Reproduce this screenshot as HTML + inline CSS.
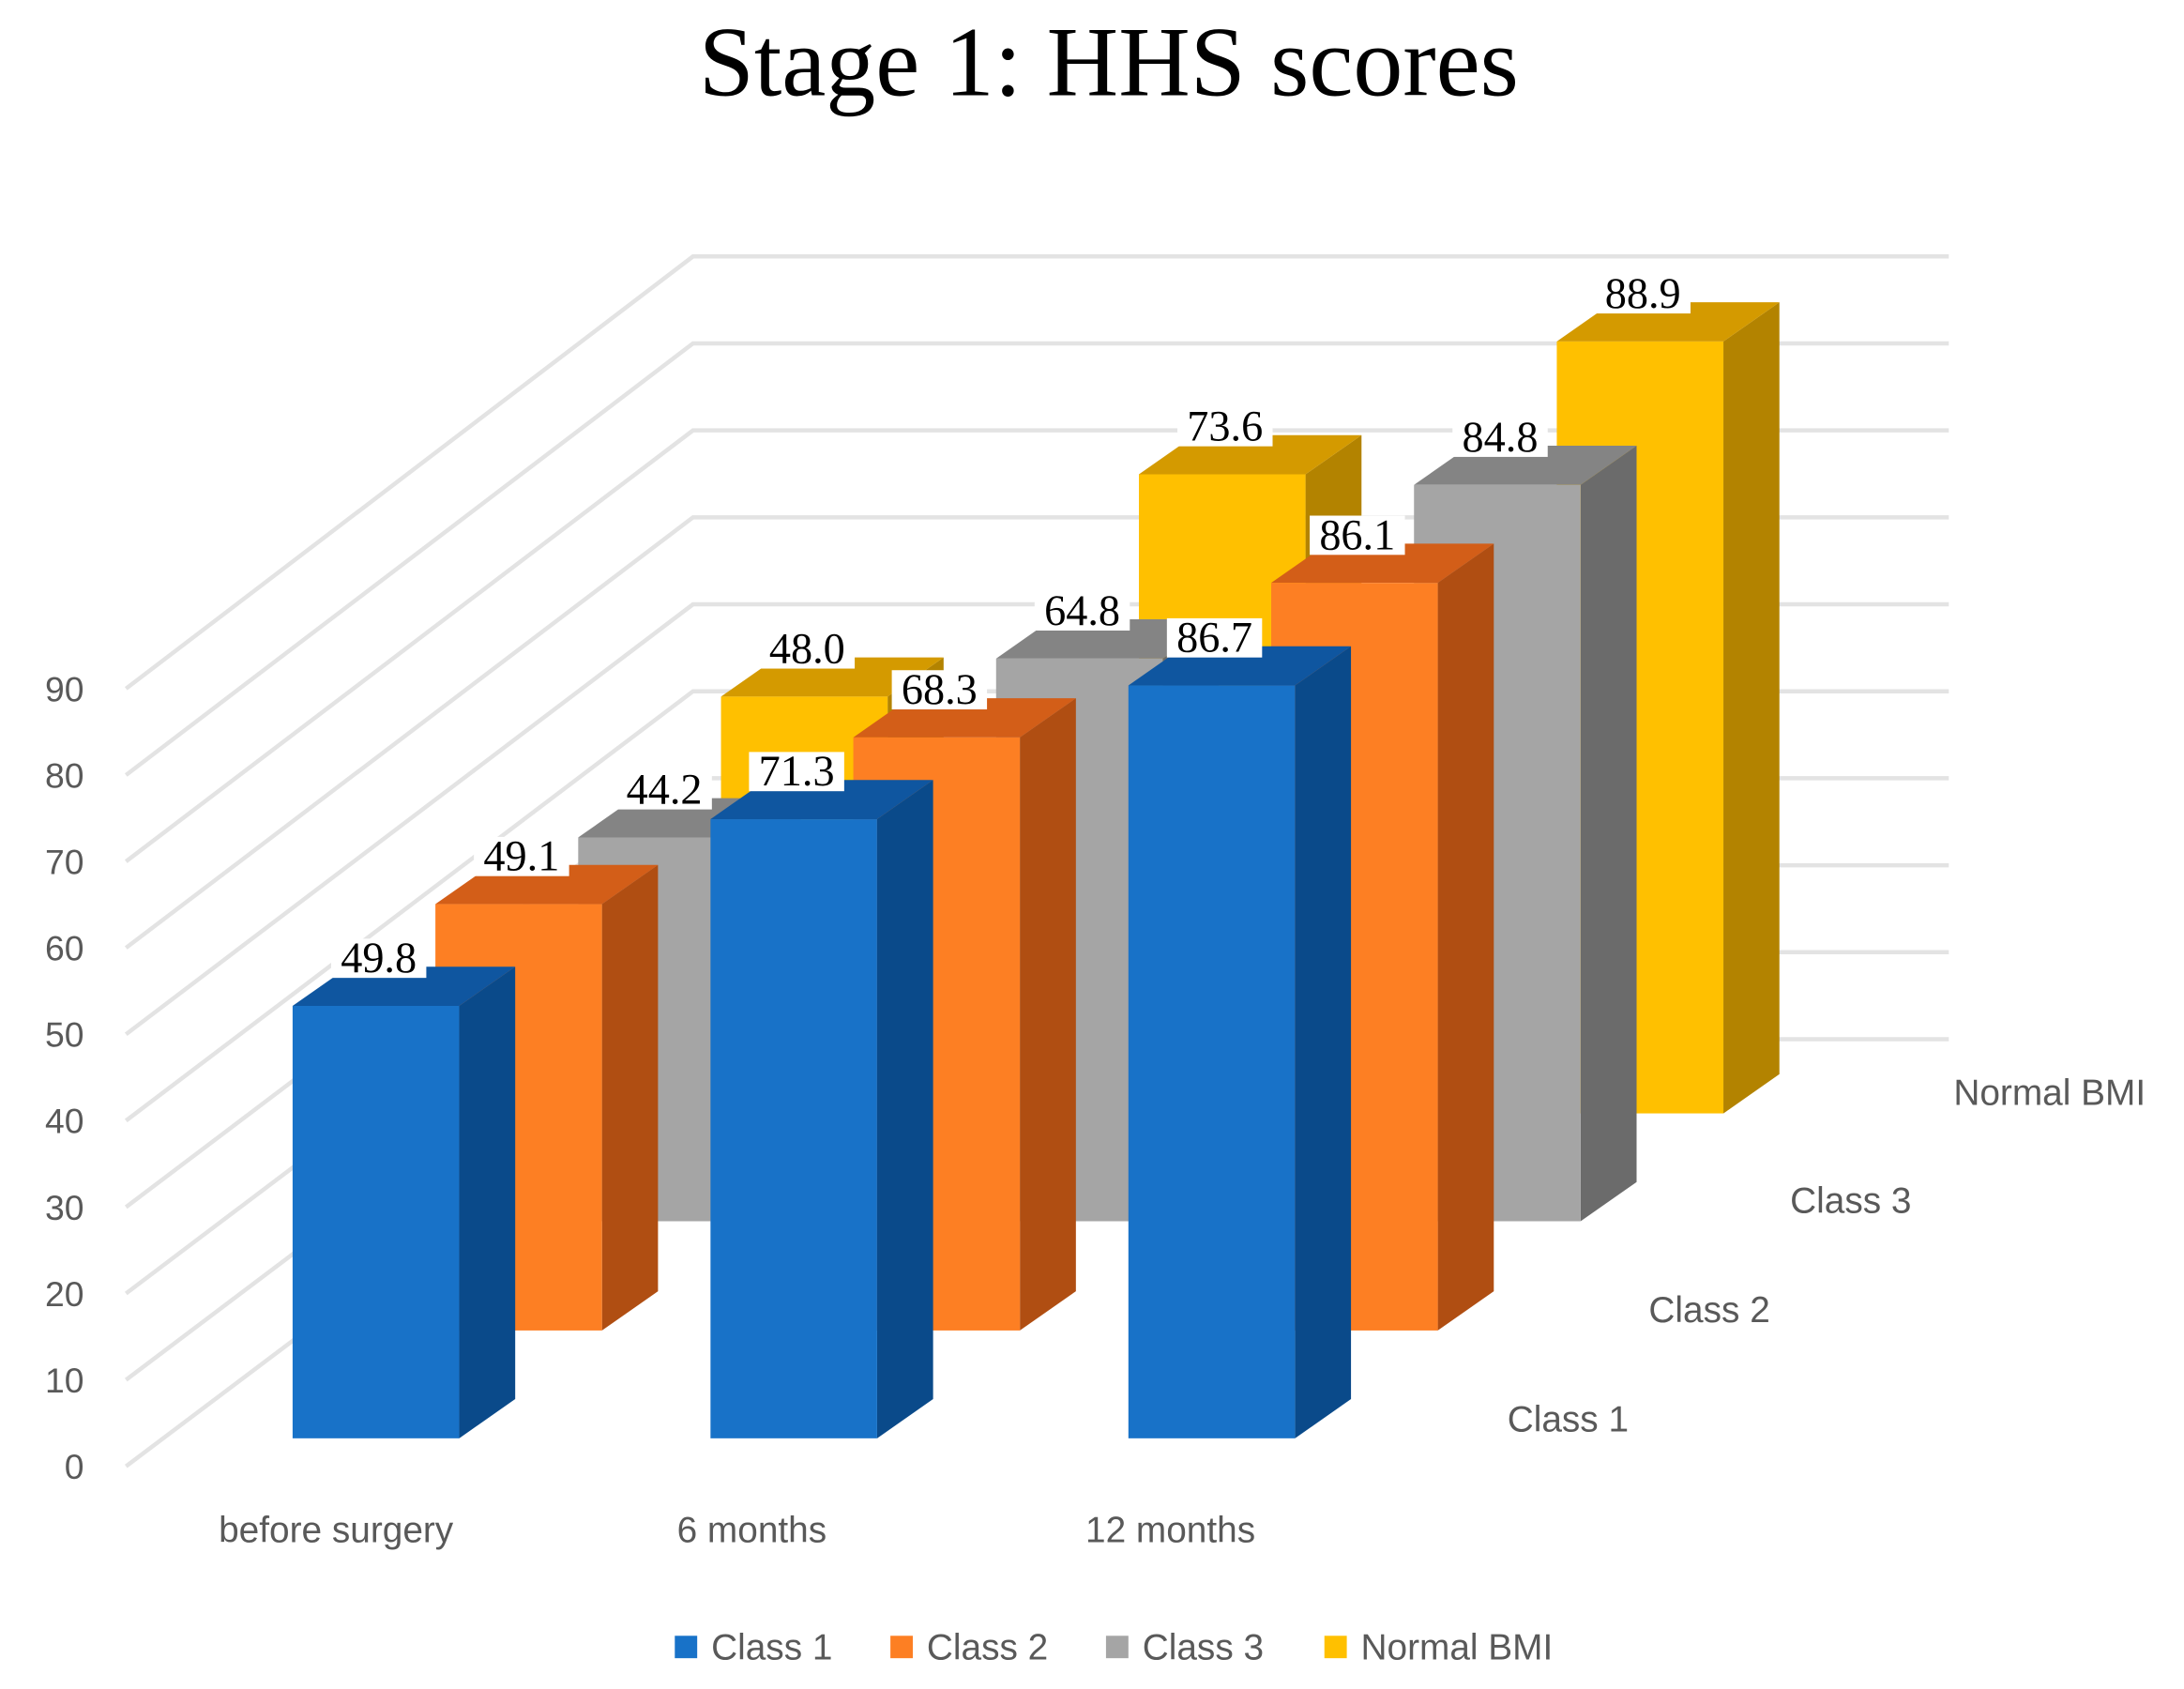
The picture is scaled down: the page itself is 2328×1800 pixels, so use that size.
<!DOCTYPE html>
<html><head><meta charset="utf-8"><style>html,body{margin:0;padding:0;background:#fff}svg{display:block}</style></head>
<body>
<svg width="2328" height="1800" viewBox="0 0 1560 1206" preserveAspectRatio="none" xmlns="http://www.w3.org/2000/svg">
<rect width="1560" height="1206" fill="#fff"/>
<text x="792" y="68" font-family="Liberation Serif, serif" font-size="71" text-anchor="middle" fill="#000">Stage 1: HHS scores</text>
<g stroke="#e3e3e3" stroke-width="3" fill="none" id="grid"></g>
<g font-family="Liberation Sans, sans-serif" font-size="25" fill="#595959" text-anchor="end" id="ylab"></g>
<g id="bars"></g>
<g font-family="Liberation Sans, sans-serif" font-size="26" fill="#595959" text-anchor="middle">
<text x="240" y="1101">before surgery</text>
<text x="537" y="1101">6 months</text>
<text x="836" y="1101">12 months</text>
<text x="1120" y="1022">Class 1</text>
<text x="1221" y="944">Class 2</text>
<text x="1322" y="866">Class 3</text>
<text x="1464" y="789">Normal BMI</text>
</g>
<g font-family="Liberation Sans, sans-serif" font-size="26" fill="#595959">
<rect x="482" y="1168" width="16" height="16" fill="#1872C8"/><text x="508" y="1185">Class 1</text>
<rect x="636" y="1168" width="16" height="16" fill="#FD7F23"/><text x="662" y="1185">Class 2</text>
<rect x="790" y="1168" width="16" height="16" fill="#A5A5A5"/><text x="816" y="1185">Class 3</text>
<rect x="946" y="1168" width="16" height="16" fill="#FFC000"/><text x="972" y="1185">Normal BMI</text>
</g>
<script>
var NS="http://www.w3.org/2000/svg";
function el(p,t,a,txt){var e=document.createElementNS(NS,t);for(var k in a)e.setAttribute(k,a[k]);if(txt)e.textContent=txt;p.appendChild(e);return e;}
var g=document.getElementById('grid'),yl=document.getElementById('ylab');
for(var i=0;i<10;i++){var yf=1047-i*61.7,yb=742-i*62.1;
el(g,'polyline',{points:"90,"+yf+" 495,"+yb+" 1392,"+yb});
el(yl,'text',{x:60,y:yf+9},String(i*10));}
var B=document.getElementById('bars');
var series=[
 {b:795,x0:515,v:[48.0,73.6,88.9],c:["#FFC000","#B38300","#D49A00"]},
 {b:872,x0:413,v:[44.2,64.8,84.8],c:["#A5A5A5","#6B6B6B","#848484"]},
 {b:950,x0:311,v:[49.1,68.3,86.1],c:["#FD7F23","#B04E12","#D35E18"]},
 {b:1027,x0:209,v:[49.8,71.3,86.7],c:["#1872C8","#0A4A8A","#0F56A0"]}];
var labels=[];
series.forEach(function(s){
 for(var j=0;j<3;j++){
  var x=s.x0+j*298.5,w=119,t=s.b-s.v[j]*6.2,dx=40,dy=28;
  el(B,'polygon',{points:[x+w,t,x+w+dx,t-dy,x+w+dx,s.b-dy,x+w,s.b].join(' '),fill:s.c[1]});
  el(B,'polygon',{points:[x,t,x+dx,t-dy,x+w+dx,t-dy,x+w,t].join(' '),fill:s.c[2]});
  el(B,'rect',{x:x,y:t,width:w,height:s.b-t,fill:s.c[0]});
  labels.push([x+w/2+2,t-24,s.v[j].toFixed(1)]);
 }
});
labels.forEach(function(l){
 el(B,'rect',{x:l[0]-34,y:l[1]-24,width:68,height:28,fill:"#fff"});
 el(B,'text',{x:l[0],y:l[1],'font-family':"Liberation Serif, serif",'font-size':"31",'text-anchor':"middle",fill:"#000"},l[2]);
});
</script>
</svg>
</body></html>
